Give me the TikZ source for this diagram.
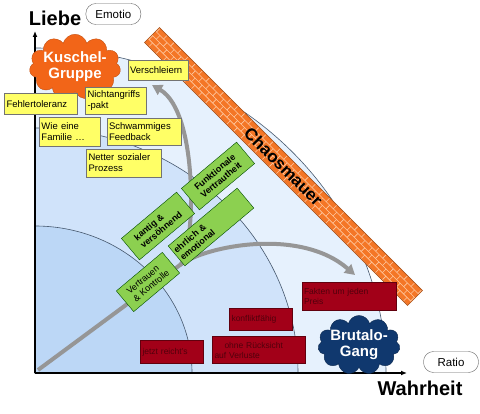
\documentclass[tikz,border=0pt]{standalone}
\usepackage{fontspec}
\setmainfont{Liberation Sans}
\usetikzlibrary{shapes.symbols,arrows.meta,positioning}
\definecolor{wandorange}{RGB}{244,118,38}
\definecolor{fugen}{RGB}{255,200,160}
\definecolor{kuschelorange}{RGB}{242,101,24}
\definecolor{brutalblau}{RGB}{16,56,110}
\definecolor{postit}{RGB}{255,255,102}
\definecolor{blattgruen}{RGB}{140,208,80}
\definecolor{weinrot}{RGB}{162,0,24}
\definecolor{zone1}{RGB}{188,215,246}
\definecolor{zone2}{RGB}{208,227,250}
\definecolor{zone3}{RGB}{230,241,253}
\definecolor{bogen}{RGB}{70,88,110}
\definecolor{pfeilgrau}{RGB}{150,150,150}

\begin{document}
\begin{tikzpicture}[x=1pt, y=1pt,
  gelb/.style={rectangle, draw=black!55, fill=postit, align=left, inner sep=2pt,
    font=\fontsize{9.5}{11}\selectfont},
  gruen/.style={rectangle, draw=green!30!black, fill=blattgruen, align=left, rotate=40,
    inner sep=2pt, font=\bfseries\fontsize{9}{10}\selectfont},
  rot/.style={rectangle, draw=weinrot!60!black, fill=weinrot, text=weinrot!50!black,
    align=left, inner sep=2pt, font=\fontsize{8.5}{10}\selectfont},
  wolke/.style={cloud, cloud puffs=11, aspect=1.7, inner sep=-2pt, text=white,
    align=center, font=\bfseries\fontsize{15}{16}\selectfont},
  pille/.style={rectangle, rounded corners=10pt, draw=black!60, fill=white,
    minimum width=55pt, minimum height=21pt, font=\fontsize{11.5}{12}\selectfont},
  achse/.style={line width=2pt, -{Latex[length=6pt,width=5pt]}},
  pfad/.style={pfeilgrau, line width=4pt, -{Triangle[length=10pt,width=11pt]}},
  bg/.style={draw=bogen, line width=0.6pt}]
\useasboundingbox (0,0) rectangle (480,413);

\coordinate (o) at (35,40);
\coordinate (ytop) at (35,382);
\coordinate (xend) at (407,40);

% Zonen
\foreach \rx/\ry/\farbe in {351/325/zone3, 263/245/zone2, 157/147/zone1}
  \filldraw[fill=\farbe, bg] (o) -- ++(\rx,0)
    arc[start angle=0, end angle=90, x radius=\rx, y radius=\ry] -- cycle;

\draw[achse] (o) -- (ytop);
\draw[achse] (o) -- (xend);

% Chaosmauer
\begin{scope}[shift={(283.5,246.5)}, rotate=-45]
  \fill[wandorange] (-186,-10.5) rectangle (186,10.5);
  \begin{scope}
    \clip (-186,-10.5) rectangle (186,10.5);
    \foreach \r in {0,...,3} {
      \draw[fugen, line width=0.6pt] (-186,-10.5+\r*5.25) -- ++(372,0);
      \foreach \c in {0,...,38}
        \draw[fugen, line width=0.6pt] ({-190+\c*10+mod(\r,2)*5},{-10.5+\r*5.25}) -- ++(0,5.25);
    }
  \end{scope}
  \draw[wandorange!70!black, line width=0.6pt] (-186,-10.5) rectangle (186,10.5);
\end{scope}
\node[rotate=-45, font=\bfseries\fontsize{17}{18}\selectfont] (mauer) at (283.5,246.5) {Chaosmauer};

% Pfeile
\coordinate (start) at (38,43);
\coordinate (gabel) at (180,148);
\coordinate (ziel1) at (152,328);
\coordinate (ziel2) at (355,138);
\draw[pfad] (start) -- (gabel) .. controls (195,159) and (200,300) .. (ziel1);
\draw[pfad] (gabel) .. controls (205,167) and (300,186) .. (ziel2);

% Wolken
\node[wolke, fill=kuschelorange, draw=kuschelorange!80!black, minimum width=88pt, minimum height=52pt] (kuschel) at (75,346) {Kuschel-\\Gruppe};
\node[wolke, fill=brutalblau, draw=brutalblau!70!black, minimum width=82pt, minimum height=55pt] (brutalo) at (359,68) {Brutalo-\\Gang};

% gruen
\node[gruen, minimum width=72pt, minimum height=28pt] (funkt) at (218,237) {Funktionale\\Vertrautheit};
\node[gruen, minimum width=72pt, minimum height=28pt] (kantig) at (158,187) {kantig \&\\versöhnend};
\node[gruen, text width=86pt, minimum height=26pt] (ehrlich) at (211,186) {ehrlich \&\\emotional};
\node[gruen, font=\fontsize{9}{10}\selectfont, minimum width=60pt, minimum height=27pt] (vertrauen) at (148,131) {Vertrauen\\\& Kontrolle};

% gelb
\node[gelb, text width=56pt, minimum height=20pt] (verschl) at (158,343) {Verschleiern};
\node[gelb, text width=69pt, minimum height=21pt] (fehler) at (41,309) {Fehlertoleranz};
\node[gelb, text width=57pt, minimum height=27pt] (nicht) at (116,312) {Nichtangriffs\\-pakt};
\node[gelb, text width=57pt, minimum height=29pt] (familie) at (70,281) {Wie eine\\Familie \dots};
\node[gelb, text width=70pt, minimum height=27pt] (schwamm) at (144,281) {Schwammiges\\Feedback};
\node[gelb, text width=71pt, minimum height=28pt] (netter) at (124,250) {Netter sozialer\\Prozess};

% rot
\node[rot, text width=90pt, minimum height=28pt] (fakten) at (349,117) {Fakten um jeden\\Preis};
\node[rot, text width=59pt, minimum height=22pt] (konflikt) at (261,94) {konfliktfähig};
\node[rot, text width=59pt, minimum height=23pt] (jetzt) at (172,61) {jetzt reicht's};
\node[rot, text width=89pt, minimum height=27pt] (ohne) at (259,63) {\hspace{10pt}ohne Rücksicht\\auf Verluste};

% Achsentexte
\node[font=\bfseries\fontsize{20}{22}\selectfont] (liebe) at (55,395) {Liebe};
\node[pille, right=1pt of liebe, yshift=4pt] (emotio) {Emotio};
\node[font=\bfseries\fontsize{20}{22}\selectfont] (wahrheit) at (420,25) {Wahrheit};
\node[pille] (ratio) at (451,51) {Ratio};
\end{tikzpicture}
\end{document}
